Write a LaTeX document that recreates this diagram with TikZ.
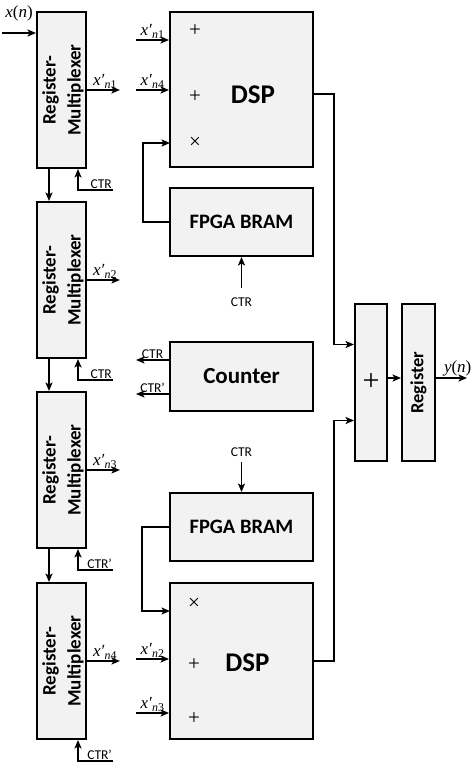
\documentclass[tikz,border=0pt]{standalone}
\usepackage{fontspec}
\setmainfont{Carlito}
\newfontfamily\sigserif{Liberation Serif}
\usetikzlibrary{arrows.meta,positioning}
\definecolor{boxfill}{HTML}{F2F2F2}
\newcommand{\xsig}[1]{\textit{x′}\textsubscript{\textit{n}#1}}

\begin{document}
\begin{tikzpicture}[x=1pt, y=-1pt,
  block/.style={draw, line width=1.9pt, fill=boxfill, inner sep=0pt},
  wire/.style={line width=1.7pt, -{Stealth[length=8.5pt,width=7pt,inset=2pt]}},
  sig/.style={font=\sigserif\fontsize{17}{17}\selectfont, inner sep=1pt},
  ctrl/.style={font=\fontsize{13.5}{14}\selectfont, inner sep=1pt},
  op/.style={font=\sigserif\fontsize{21}{21}\selectfont, inner sep=0pt},
  boldtext/.style={font=\bfseries\fontsize{#1}{#1}\selectfont, inner sep=0pt}]
  \useasboundingbox (0,0) rectangle (474,768);

  % register-multiplexer chain
  \foreach \i/\y/\c in {1/90/CTR,2/280/CTR,3/470/CTR’,4/661/CTR’} {
    \node[block, minimum width=49pt, minimum height=156pt] (rm\i) at (61.5,\y) {};
    \node[rotate=90, align=center, font=\bfseries\fontsize{19}{25}\selectfont] (rmtext\i) at ([xshift=1.5pt]rm\i.center) {Register-\\Multiplexer};
    \coordinate (rmout\i) at ([xshift=33pt]rm\i.east);
    \draw[wire] (rm\i.east) -- (rmout\i) node[sig, above, pos=.55] (xo\i) {\xsig{\i}};
    \coordinate (ctr\i) at ([xshift=51.5pt, yshift=-21pt]rm\i.south);
    \draw[wire] (ctr\i) -| ([xshift=16.5pt]rm\i.south);
    \node[ctrl, above left] (ctrtext\i) at (ctr\i) {\c};
  }
  \foreach \i/\j in {1/2,2/3,3/4}
    \draw[wire] ([xshift=-12.5pt]rm\i.south) -- ([xshift=-12.5pt]rm\j.north);
  \coordinate (xin) at (2,33);
  \draw[wire] (xin) -- (xin -| rm1.west);
  \node[sig] (xn) at (19,13) {\textit{x}(\textit{n})};

  % middle column
  \node[block, minimum width=143pt, minimum height=155pt] (dsp1) at (241.5,89.5) {};
  \node[block, minimum width=143pt, minimum height=68pt, boldtext=20.5] (bram1) at (241.5,222) {FPGA BRAM};
  \node[block, minimum width=143pt, minimum height=69pt, boldtext=23] (cnt) at (241.5,376.5) {Counter};
  \node[block, minimum width=143pt, minimum height=68pt, boldtext=20.5] (bram2) at (241.5,527) {FPGA BRAM};
  \node[block, minimum width=143pt, minimum height=156pt] (dsp2) at (241.5,661) {};
  \node[boldtext=27] (dsptext1) at (253,95) {DSP};
  \node[boldtext=27] (dsptext2) at (247.5,663) {DSP};
  \node[op] (add11) at (195,31) {+};
  \node[op] (add12) at (195,97) {+};
  \node[op] (mul1) at (195,143) {×};
  \node[op] (mul2) at (194,604) {×};
  \node[op] (add21) at (194,665) {+};
  \node[op] (add22) at (194,719) {+};

  \foreach \d/\y/\s in {1/40/1,1/90/4,2/659/2,2/713/3} {
    \coordinate (in\d\s) at (136,\y);
    \draw[wire] (in\d\s) -- (in\d\s -| dsp\d.west) node[sig, above, midway] (xi\d\s) {\xsig{\s}};
  }
  \coordinate (mulin1) at (170,143);
  \coordinate (mulin2) at (170,611);
  \draw[wire] (bram1.west) -- ++(-26,0) |- (mulin1);
  \draw[wire] (bram2.west) -- ++(-27,0) |- (mulin2);

  \coordinate (bctr1) at (241.5,288);
  \coordinate (bctr2) at (241.5,462);
  \draw[wire] (bctr1) -- (bram1.south);
  \draw[wire] (bctr2) -- (bram2.north);
  \node[ctrl, below=9pt of bctr1] (bctrtext1) {CTR};
  \node[ctrl, above=4pt of bctr2] (bctrtext2) {CTR};

  \coordinate (cout1) at (136,360);
  \coordinate (cout2) at (136,394);
  \draw[wire] (cnt.west |- cout1) -- (cout1) node[ctrl, above, midway] (couttext1) {CTR};
  \draw[wire] (cnt.west |- cout2) -- (cout2) node[ctrl, above, midway] (couttext2) {CTR’};

  % adder and output register
  \node[block, minimum width=32pt, minimum height=157pt, font=\sigserif\fontsize{30}{30}\selectfont] (add) at (371,382.5) {+};
  \node[block, minimum width=33pt, minimum height=157pt] (reg) at (418.5,382.5) {};
  \node[rotate=90, boldtext=18.5] (regtext) at (reg) {Register};
  \draw[wire] ([yshift=-4.5pt]dsp1.east) -- ++(20,0) |- ([yshift=38pt]add.west);
  \draw[wire] (dsp2.east) -- ++(20,0) |- ([yshift=-38pt]add.west);
  \draw[wire] ([yshift=4.5pt]add.east) -- ([yshift=4.5pt]reg.west);
  \coordinate (yout) at (467,378);
  \draw[wire] (reg.east |- yout) -- (yout) node[sig, above, pos=.7] (yn) {\textit{y}(\textit{n})};
\end{tikzpicture}
\end{document}
